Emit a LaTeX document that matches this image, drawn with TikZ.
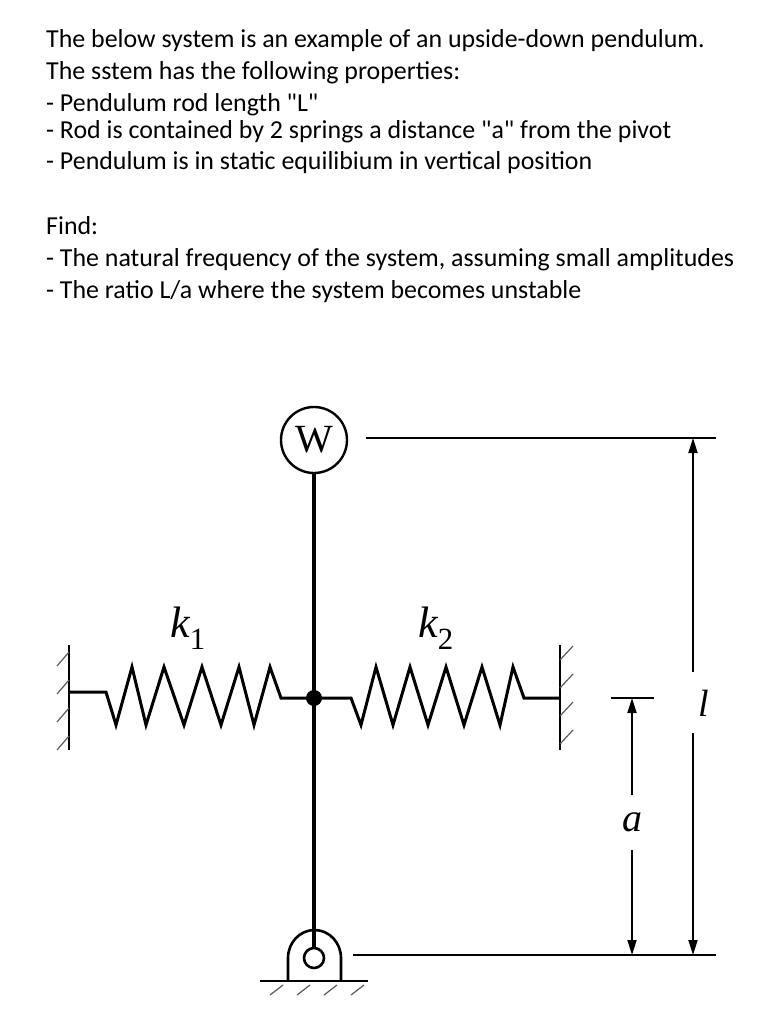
\documentclass[tikz,border=0pt]{standalone}
\usepackage{fontspec}
\setmainfont{Carlito}[Ligatures=TeXOff]
\newfontfamily\lserif{Liberation Serif}
\usetikzlibrary{arrows.meta}
\begin{document}
\begin{tikzpicture}[x=1pt,y=-1pt,
  txt/.style={anchor=base west,inner sep=0pt,font=\fontsize{25.9}{30}\selectfont},
  lbl/.style={inner sep=0pt,font=\lserif\itshape\fontsize{44}{48}\selectfont},
  thick line/.style={line width=4.5pt},
  thin line/.style={line width=2.6pt},
  hatch/.style={line width=1.2pt,gray!70!black},
  arr/.style={line width=1.8pt,-{Triangle[length=15pt,width=9pt]}}]
\useasboundingbox (0,0) rectangle (768,1024);
\node[txt] at (46,48) {The below system is an example of an upside-down pendulum.};
\node[txt] at (46,80) {The sstem has the following properties:};
\node[txt] at (46,112) {- Pendulum rod length "L"};
\node[txt] at (46,139) {- Rod is contained by 2 springs a distance "a" from the pivot};
\node[txt] at (46,170) {- Pendulum is in static equilibium in vertical position};
\node[txt] at (46,234) {Find:};
\node[txt] at (46,266) {- The natural frequency of the system, assuming small amplitudes};
\node[txt] at (46,298) {- The ratio L/a where the system becomes unstable};
% pendulum
\node[circle,draw,line width=2.4pt,minimum size=66pt,inner sep=0pt,font=\lserif\fontsize{40}{44}\selectfont] (W) at (314,440) {W};
\coordinate (P) at (314,958);
\coordinate (J) at (314,698);
% pivot
\draw[thin line] (288,981) -- (288,958) arc (180:360:26.5 and 28) -- (341,981);
\draw[thin line,fill=white] (P) circle (10);
\draw[thick line] (W.south) -- (314,948);
\fill (J) circle (8);
\draw[thin line] (260,981) -- (368,981);
\foreach \x in {270,297,324,351} \draw[hatch] (\x,995) -- (\x+13,985);
% left wall and spring
\draw[thin line] (69,645) -- (69,750);
\foreach \y in {660,688,716,744} \draw[hatch] (69,\y-8) -- (57,\y+6);
\draw[line width=3pt,line join=miter] (69,692) -- (106,692) -- (116,725) -- (132,667) -- (146,725) -- (164,667) -- (184,725) -- (202,667) -- (221,725) -- (239,667) -- (254,725) -- (270,667) -- (281,698) -- (J);
% right wall and spring
\draw[thin line] (560,645) -- (560,750);
\foreach \y in {652,680,708,736} \draw[hatch] (560,\y+8) -- (573,\y-6);
\draw[line width=3pt,line join=miter] (J) -- (351,698) -- (361,725) -- (376,667) -- (393,725) -- (410,667) -- (428,725) -- (446,667) -- (464,725) -- (482,667) -- (500,725) -- (513,667) -- (524,698) -- (560,698);
\node[lbl] (k1) at (188,628) {k\textsubscript{\upshape 1}};
\node[lbl] (k2) at (436,628) {k\textsubscript{\upshape 2}};
% dimensions
\draw[thin line] (366,438) -- (716,438);
\draw[thin line] (353,955) -- (716,955);
\draw[thin line] (611,698) -- (654,698);
\coordinate (ltop) at (693,438);
\coordinate (lbot) at (693,955);
\coordinate (atop) at (632,698);
\coordinate (abot) at (632,955);
\node[lbl,font=\lserif\itshape\fontsize{38}{42}\selectfont] (l) at (704,703) {l};
\node[lbl,font=\lserif\itshape\fontsize{40}{44}\selectfont] (a) at (632,822) {a};
\draw[arr] (693,672) -- (ltop);
\draw[arr] (693,733) -- (lbot);
\draw[arr] (632,795) -- (atop);
\draw[arr] (632,850) -- (abot);
\end{tikzpicture}
\end{document}
